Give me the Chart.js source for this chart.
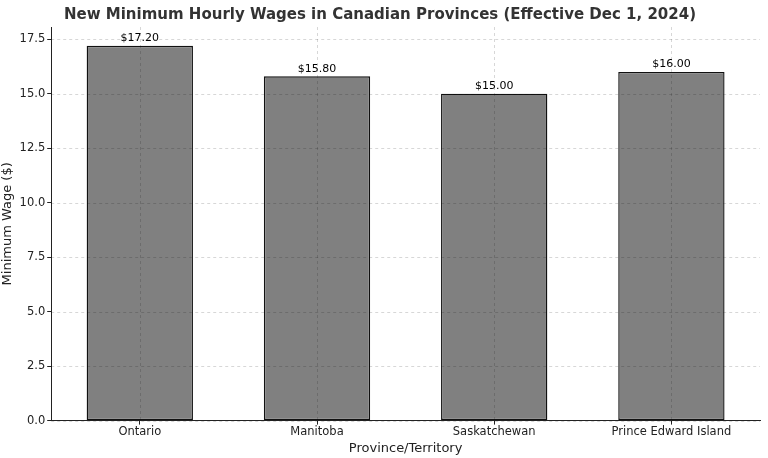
<!DOCTYPE html>
<html><head><meta charset="utf-8">
<script src="https://cdn.jsdelivr.net/npm/chart.js@4/dist/chart.umd.min.js"></script>
<style>html,body{margin:0;padding:0;background:#fff}#w{width:768px;height:458px}</style>
</head><body><div id="w"><canvas id="c"></canvas></div>
<script>
const categories = ["Ontario","Manitoba","Saskatchewan","Prince Edward Island"];
const wages = [17.20, 15.80, 15.00, 16.00];
const yTicks = [0,2.5,5,7.5,10,12.5,15,17.5];
Chart.defaults.font.family = "DejaVu Sans";
Chart.defaults.color = "#333";
const labelPlugin = {
  id:"lbl",
  afterDatasetsDraw(chart){
    const ctx = chart.ctx, meta = chart.getDatasetMeta(0), a = chart.chartArea;
    const xs = chart.scales.x, ys = chart.scales.y;
    ctx.save();
    ctx.strokeStyle="rgba(0,0,0,0.2)"; ctx.lineWidth=0.8; ctx.setLineDash([3,3]);
    ctx.beginPath();
    categories.forEach((c,i)=>{const x=Math.round(xs.getPixelForValue(i))+0.5; ctx.moveTo(x,a.top); ctx.lineTo(x,a.bottom);});
    yTicks.forEach(v=>{const y=Math.round(ys.getPixelForValue(v))+0.5; ctx.moveTo(a.left,y); ctx.lineTo(a.right,y);});
    ctx.stroke();
    ctx.setLineDash([]);
    ctx.font = "11px DejaVu Sans"; ctx.fillStyle="#000";
    ctx.textAlign="center"; ctx.textBaseline="bottom";
    meta.data.forEach((b,i)=>ctx.fillText("$"+wages[i].toFixed(2), b.x, b.y-2));
    ctx.restore();
  }
};
new Chart(document.getElementById("c"),{
  type:"bar",
  data:{labels:categories,datasets:[{data:wages,backgroundColor:"#808080",borderColor:"#111",borderWidth:1.4,borderSkipped:false,categoryPercentage:1,barPercentage:0.6}]},
  options:{
    responsive:true,maintainAspectRatio:false,animation:false,
    layout:{padding:{left:0,right:8,top:2,bottom:0}},
    plugins:{legend:{display:false},tooltip:{enabled:false},
      title:{display:true,text:"New Minimum Hourly Wages in Canadian Provinces (Effective Dec 1, 2024)",font:{size:15,weight:"bold"},color:"#333",padding:{top:4,bottom:3}}},
    scales:{
      x:{grid:{display:true,drawOnChartArea:false,offset:false,color:"#222",tickLength:4},
        border:{color:"#222"},
        ticks:{color:"#222",font:{size:11.5},padding:1},
        title:{display:true,text:"Province/Territory",font:{size:13},color:"#222",padding:{top:0,bottom:2}}},
      y:{min:0,max:18.06,afterBuildTicks(s){s.ticks=yTicks.map(v=>({value:v}));},
        grid:{display:true,drawOnChartArea:false,color:"#222",tickLength:4},
        border:{color:"#222"},
        ticks:{color:"#222",font:{size:11.5},padding:2,callback:v=>v.toFixed(1)},
        title:{display:true,text:"Minimum Wage ($)",font:{size:13},color:"#222",padding:{top:0,bottom:2}}}
    }
  },
  plugins:[labelPlugin]
});
</script></body></html>
